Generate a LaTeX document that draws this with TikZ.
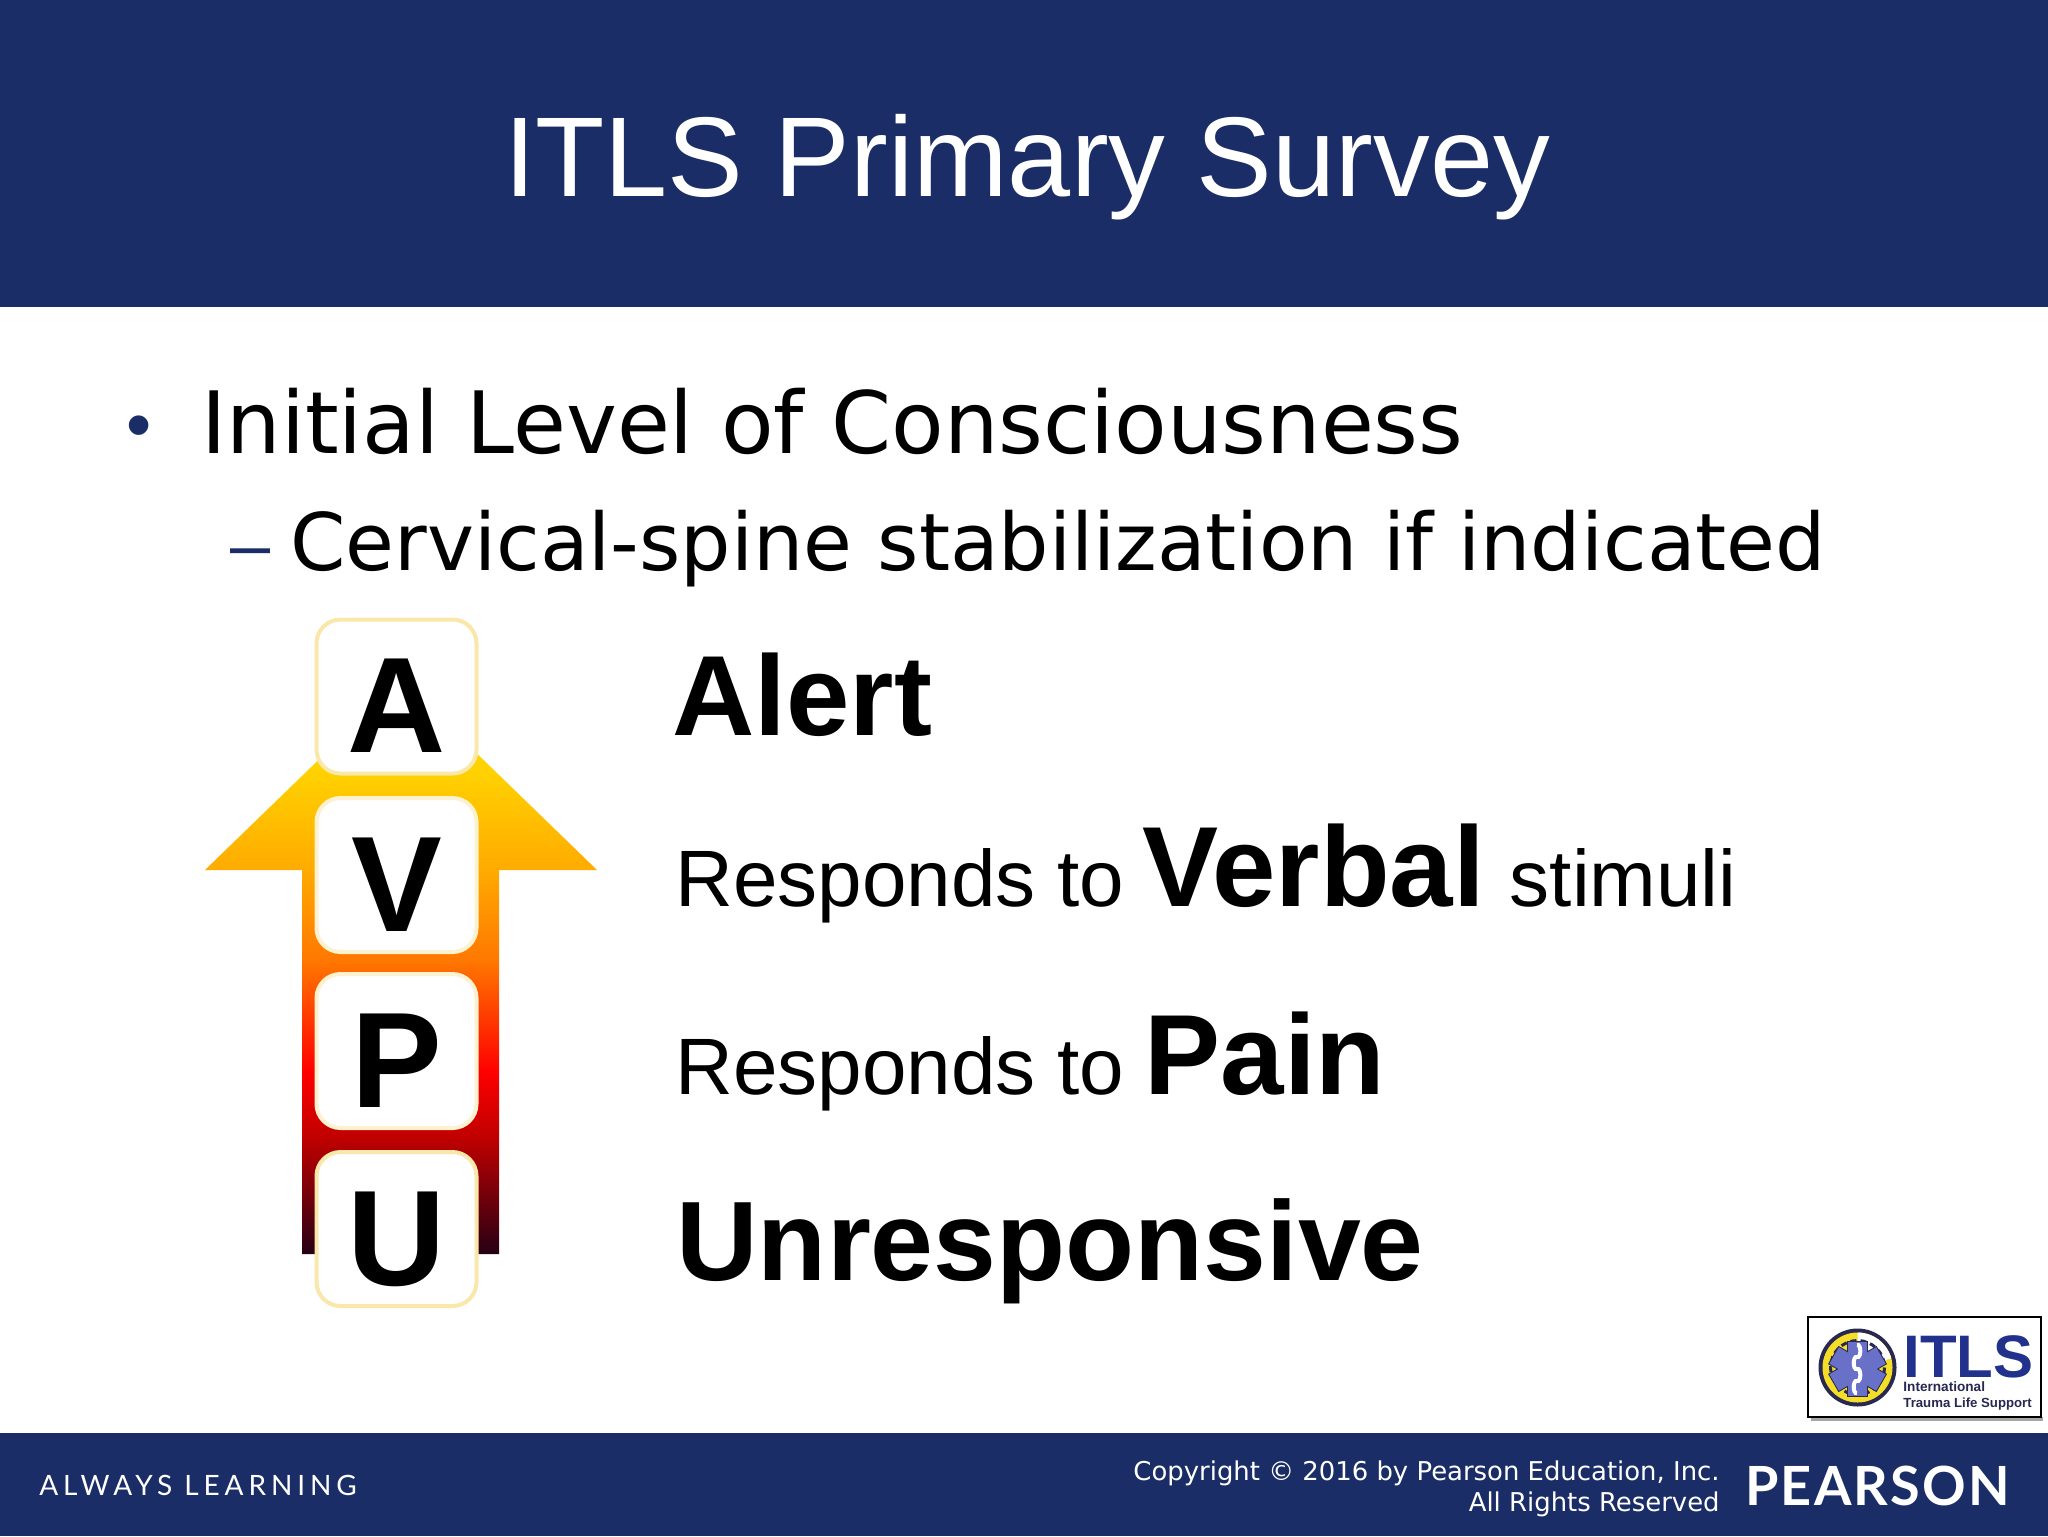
\documentclass[tikz,border=0pt]{standalone}
\usepackage{fontspec}
\setmainfont{Liberation Sans}
\newfontfamily\versefont{DejaVu Sans}
\newfontfamily\gillfont[LetterSpace=17.5]{Lato}
\newfontfamily\logofont[LetterSpace=4]{Lato}
\definecolor{navyband}{RGB}{27,45,102}
\definecolor{paleedge}{RGB}{250,232,170}
\definecolor{logoblue}{RGB}{34,50,140}
\definecolor{starblue}{RGB}{104,112,200}
\definecolor{logoyellow}{RGB}{245,222,40}
\definecolor{logodark}{RGB}{40,40,80}
\pgfdeclareverticalshading{avpuramp}{100bp}{rgb(0bp)=(0.15,0,0.08);
  rgb(25bp)=(0.15,0,0.08); rgb(35.3bp)=(0.76,0,0);
  rgb(40.9bp)=(1,0,0); rgb(50.6bp)=(1,0.47,0);
  rgb(58.5bp)=(1,0.67,0); rgb(67bp)=(1,0.82,0);
  rgb(75bp)=(1,0.88,0); rgb(100bp)=(1,0.88,0)}
\tikzset{
  txt/.style={anchor=base west,inner sep=0pt},
  lettbox/.style={draw=paleedge,line width=2pt,fill=white,rounded corners=12pt,
    minimum width=80pt,minimum height=77pt,inner sep=0pt,text height=56pt,text depth=0pt,
    font=\fontsize{68}{68}\selectfont\bfseries},
  softbox/.style={lettbox,draw=paleedge!55!white},
  band/.style={fill=navyband,draw=none}
}
\newcommand{\bigword}[1]{{\fontsize{57}{57}\selectfont\bfseries #1}}
\newcommand{\midsize}{\fontsize{40}{40}\selectfont}
\begin{document}
\begin{tikzpicture}[x=0.5pt,y=-0.5pt]
\useasboundingbox (0,0) rectangle (2048,1536);
% bands
\fill[white] (0,0) rectangle (2048,1536);
\fill[band] (0,0) rectangle (2048,307);
\fill[band] (0,1433) rectangle (2048,1536);
\node[anchor=base,inner sep=0pt,white,font=\fontsize{56.7}{56.7}\selectfont] (title) at (1027,196) {ITLS Primary Survey};
% bullets
\node[txt,navyband,font=\fontsize{36}{36}\selectfont] (dot) at (126,449) {•};
\node[txt,font=\versefont\fontsize{43}{43}\selectfont] (first) at (201,453) {Initial Level of Consciousness};
\node[txt,navyband,font=\fontsize{36}{36}\selectfont] (dash) at (230,569) {–};
\node[txt,font=\versefont\fontsize{39.7}{39.7}\selectfont] (second) at (290,570) {Cervical-spine stabilization if indicated};
% arrow
\shade[shading=avpuramp] (401,680) -- (597,870) -- (499,870) -- (499,1254) -- (302,1254) -- (302,870) -- (205,870) -- cycle;
\node[lettbox] (a) at (396.5,696.5) {A};
\node[softbox] (v) at (396.5,875) {V};
\node[softbox] (p) at (396.5,1051) {P};
\node[lettbox] (u) at (396.5,1229) {U};
% labels
\node[txt] (alert) at (672,735) {\bigword{Alert}};
\node[txt] (verbal) at (675,906) {\midsize Responds to\hspace{-2pt} \bigword{Verbal}\hspace{1.3pt} stimuli};
\node[txt] (pain) at (675,1094) {\midsize Responds to\hspace{-1pt} \bigword{Pain}};
\node[txt,font=\fontsize{56.5}{57}\selectfont\bfseries] (unresp) at (676,1280) {Unresponsive};
% logo
\fill[black!35] (1811,1417) rectangle (2043,1421);
\draw[black,line width=1pt,fill=white] (1808,1317) rectangle (2041,1417);
\fill[logodark] (1857.5,1367.5) circle (39);
\fill[logoyellow] (1857.5,1367.5) circle (35);
\fill[white] (1857.5,1367.5) -- (1857.5,1332.5) arc[start angle=-90,end angle=-15,radius=35] -- cycle;
\draw[logodark,line width=1.5pt,dash pattern=on 3pt off 2pt] (1857.5,1367.5) circle (27);
\foreach \ang in {0,60,120}
  \fill[logodark,rotate around={\ang:(1857.5,1369)}] (1847,1341) rectangle (1868,1397);
\foreach \ang in {0,60,120}
  \fill[starblue,rotate around={\ang:(1857.5,1369)}] (1848,1342) rectangle (1867,1396);
\draw[white,line width=2pt] (1857,1345) to[out=20,in=-20] (1857,1357) to[out=160,in=200] (1857,1369) to[out=20,in=-20] (1857,1381) to[out=160,in=200] (1857,1393);
\node[txt,logoblue,font=\fontsize{30}{30}\selectfont\bfseries] (itls) at (1903,1377) {ITLS};
\node[txt,logodark,font=\fontsize{6.8}{7}\selectfont] (intl) at (1903,1391) {\bfseries International};
\node[txt,logodark,font=\fontsize{6.6}{7}\selectfont] (trauma) at (1903,1407) {\bfseries Trauma Life Support};
% footer
\node[txt,white,font=\gillfont\fontsize{14}{14}\selectfont] (learn) at (39,1495) {ALWAYS LEARNING};
\node[anchor=base east,inner sep=0pt,white,font=\versefont\fontsize{12.95}{13}\selectfont] (copy) at (1720,1480) {Copyright © 2016 by Pearson Education, Inc.};
\node[anchor=base east,inner sep=0pt,white,font=\versefont\fontsize{12.95}{13}\selectfont] (rights) at (1720,1511) {All Rights Reserved};
\node[txt,white,font=\logofont\bfseries\fontsize{27}{27}\selectfont] (pearson) at (1745,1505) {PEARSON};
\end{tikzpicture}
\end{document}
